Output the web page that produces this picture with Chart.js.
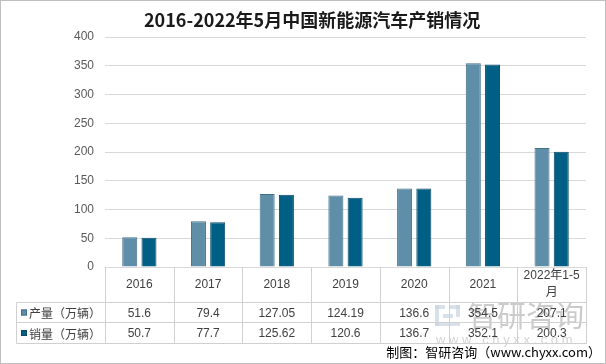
<!DOCTYPE html>
<html>
<head>
<meta charset="utf-8">
<script src="https://cdn.jsdelivr.net/npm/chart.js@4.4.1/dist/chart.umd.min.js"></script>
<style>
  html, body { margin: 0; padding: 0; background: #fff; }
  #wrap { width: 606px; height: 364px; }
</style>
</head>
<body>
<div id="wrap"><canvas id="chart" width="606" height="364"></canvas></div>
<script>
const years = ['2016', '2017', '2018', '2019', '2020', '2021', '2022年1-5月'];
const output = [51.6, 79.4, 127.05, 124.19, 136.6, 354.5, 207.1];
const sales = [50.7, 77.7, 125.62, 120.6, 136.7, 352.1, 200.3];
const seriesNames = ['产量（万辆）', '销量（万辆）'];
const yTicks = [0, 50, 100, 150, 200, 250, 300, 350, 400];
const titleText = '2016-2022年5月中国新能源汽车产销情况';

const FONT = "'Liberation Sans', 'Noto Sans CJK SC', sans-serif";
Chart.defaults.font.family = FONT;

const fills = ['#5f8fa8', '#005f84'];
const borders = ['#426f89', '#0c4865'];

// title, watermark, data table and source note
const tablePlugin = {
    id: 'dataTable',
    afterDraw(chart) {
        const ctx = chart.ctx;
        const area = chart.chartArea;
        const xs = chart.scales.x;
        const n = years.length;
        const colW = (area.right - area.left) / n;
        const top = area.bottom;
        const row1 = 302.5, row2 = 322.5, bottom = 343.5;
        const legendLeft = 16.5;

        ctx.save();

        // title
        ctx.fillStyle = '#1a1a1a';
        ctx.font = "bold 18px 'Noto Sans CJK SC'";
        ctx.textAlign = 'left';
        ctx.textBaseline = 'middle';
        ctx.fillText(titleText, 144, 20);

        // watermark
        ctx.fillStyle = 'rgba(200,212,225,0.7)';
        ctx.fillRect(435, 305, 10, 4);
        ctx.fillRect(435, 305, 4, 21);
        ctx.fillRect(435, 322, 25, 4);
        ctx.fillRect(449, 305, 11, 4);
        ctx.fillRect(456, 305, 4, 12);
        ctx.fillRect(443, 314, 10, 4);
        ctx.fillStyle = 'rgba(140,140,140,0.45)';
        ctx.font = "29px 'Noto Sans CJK SC'";
        ctx.fillText('智研咨询', 468, 316);
        ctx.fillStyle = 'rgba(160,160,160,0.45)';
        ctx.font = "13px 'Liberation Sans'";
        ctx.fillText('w w w . c h y x x . c o m', 436, 340);

        ctx.strokeStyle = '#d0d0d0';
        ctx.lineWidth = 1;
        ctx.beginPath();
        for (let i = 0; i <= n; i++) {
            const x = Math.round(area.left + i * colW) + 0.5;
            ctx.moveTo(x, top);
            ctx.lineTo(x, bottom);
        }
        ctx.moveTo(legendLeft, row1);
        ctx.lineTo(legendLeft, bottom);
        [row1, row2, bottom].forEach(y => {
            ctx.moveTo(legendLeft, y);
            ctx.lineTo(Math.round(area.right) + 0.5, y);
        });
        ctx.stroke();

        ctx.fillStyle = '#404040';
        ctx.font = '12px ' + FONT;
        ctx.textAlign = 'center';
        years.forEach((label, i) => {
            const cx = xs.getPixelForValue(i);
            if (label.length > 6) {
                ctx.fillText(label.slice(0, -1), cx, 276);
                ctx.fillText(label.slice(-1), cx, 293);
            } else {
                ctx.fillText(label, cx, 285);
            }
        });

        const rows = [output, sales];
        const rowMid = [(row1 + row2) / 2, (row2 + bottom) / 2];
        rows.forEach((vals, r) => {
            vals.forEach((v, i) => {
                ctx.fillStyle = '#404040';
                ctx.textAlign = 'center';
                ctx.fillText(String(v), xs.getPixelForValue(i), rowMid[r] + 1);
            });
            ctx.fillStyle = fills[r];
            ctx.fillRect(21, rowMid[r] - 3, 6, 6);
            ctx.strokeStyle = borders[r];
            ctx.strokeRect(21.5, rowMid[r] - 2.5, 5, 5);
            ctx.fillStyle = '#404040';
            ctx.textAlign = 'left';
            ctx.font = "12px 'Noto Sans CJK SC'";
            ctx.fillText(seriesNames[r], 29, rowMid[r] + 1);
            ctx.font = '12px ' + FONT;
        });

        // source note
        ctx.fillStyle = '#000';
        ctx.textAlign = 'right';
        ctx.font = "13px 'Noto Sans CJK SC'";
        ctx.fillText('制图：智研咨询（www.chyxx.com）', 601, 352);

        // outer frame
        ctx.strokeStyle = '#bfbfbf';
        ctx.strokeRect(0.5, 0.5, 605, 363);
        ctx.restore();
    }
};

new Chart(document.getElementById('chart'), {
    type: 'bar',
    data: {
        labels: years,
        datasets: [{
            label: seriesNames[0],
            data: output,
            backgroundColor: fills[0],
            borderColor: borders[0],
            borderWidth: 1
        }, {
            label: seriesNames[1],
            data: sales,
            backgroundColor: fills[1],
            borderColor: borders[1],
            borderWidth: 1
        }]
    },
    options: {
        responsive: false,
        animation: false,
        layout: { padding: { left: 0, right: 20, top: 37, bottom: 0 } },
        datasets: { bar: { categoryPercentage: 0.56, barPercentage: 0.78 } },
        plugins: {
            legend: { display: false },
            tooltip: { enabled: false },
            title: { display: false }
        },
        scales: {
            x: {
                ticks: { display: false },
                grid: { display: false },
                border: { display: false },
                afterFit(scale) { scale.height = 97; }
            },
            y: {
                min: 0,
                max: 400,
                afterBuildTicks(scale) { scale.ticks = yTicks.map(v => ({ value: v })); },
                ticks: { color: '#595959', font: { size: 12 }, padding: 11 },
                grid: { color: '#d9d9d9', drawTicks: false },
                border: { display: false },
                afterFit(scale) { scale.width = 105; }
            }
        }
    },
    plugins: [tablePlugin]
});
</script>
</body>
</html>
